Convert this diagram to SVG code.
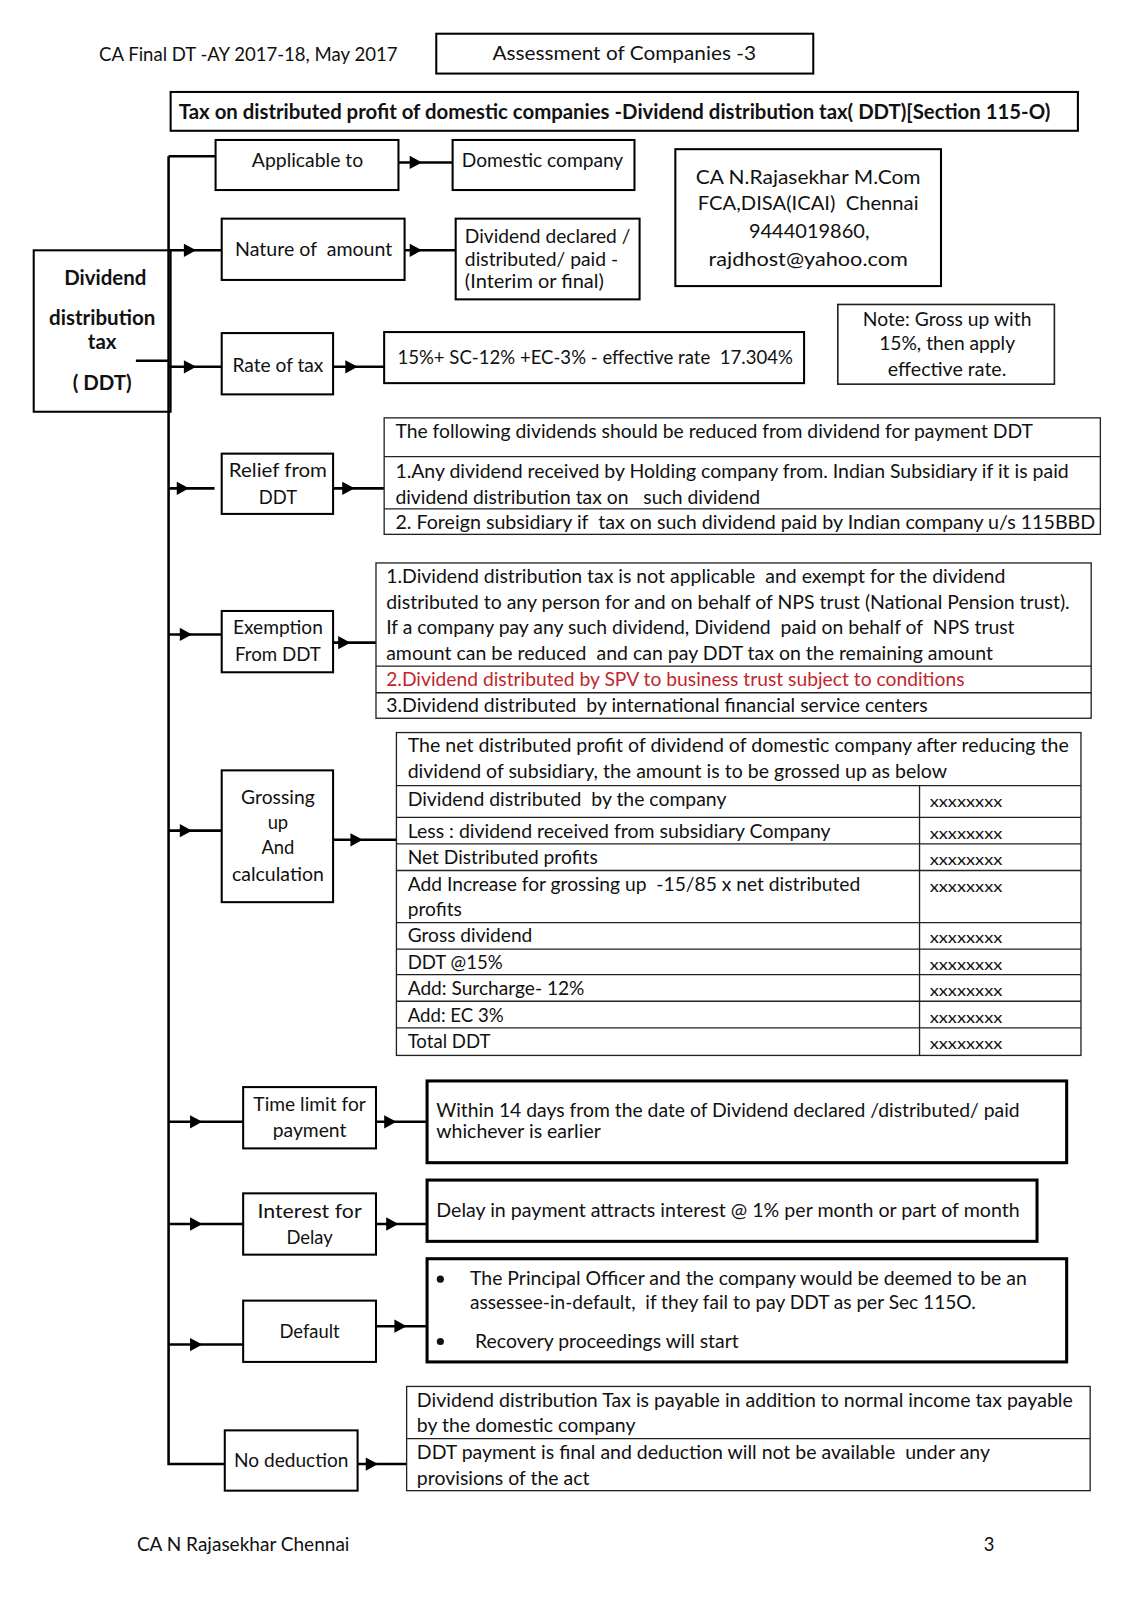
<svg xmlns="http://www.w3.org/2000/svg" xmlns:xlink="http://www.w3.org/1999/xlink" width="1131" height="1600" viewBox="0 0 1131 1600">
<style>
text{font-family:Lato,"Liberation Sans","DejaVu Sans",sans-serif;font-size:18px;fill:#111;white-space:pre}
.b{font-weight:bold}
.c{text-anchor:middle}
.box{fill:#fff;stroke:#000;stroke-width:2}
.thin{fill:#fff;stroke:#222;stroke-width:1.3}
.thk{fill:#fff;stroke:#000;stroke-width:3}
.ln{fill:none;stroke:#222;stroke-width:1.3}
.conn{fill:none;stroke:#000;stroke-width:2.5}
.red{fill:#c0272d}
.xx{font-size:15px}
</style>
<defs>
<path id="ah" d="M0,-6.5 L12,0 L0,6.5 Z" fill="#000"/>
</defs>
<rect width="1131" height="1600" fill="#fff"/>
<g transform="scale(1.0217)" xml:space="preserve">
<g id="header">
<text x="97" y="60" textLength="292" lengthAdjust="spacingAndGlyphs">CA Final DT -AY 2017-18, May 2017</text>
<rect class="box" x="427" y="33" width="369" height="39"/>
<text x="611" y="59" class="c" textLength="258" lengthAdjust="spacingAndGlyphs">Assessment of Companies -3</text>
</g>
<g id="title">
<rect class="box" x="167" y="90" width="888" height="38"/>
<text x="175" y="116" class="b" style="font-size:19.5px" textLength="853" lengthAdjust="spacingAndGlyphs">Tax on distributed profit of domestic companies -Dividend distribution tax( DDT)[Section 115-O)</text>
</g>
<g id="connectors">
<path class="conn" d="M165,153 V1433 H220"/>
<path class="conn" d="M165,153 H211"/>
<path class="conn" d="M390,159 H443"/>
<use xlink:href="#ah" href="#ah" x="401" y="159"/>
<path class="conn" d="M165,245 H217"/>
<use xlink:href="#ah" href="#ah" x="180" y="245"/>
<path class="conn" d="M392,245 H446"/>
<use xlink:href="#ah" href="#ah" x="401" y="245"/>
<path class="conn" d="M133,353 H165"/>
<path class="conn" d="M165,359 H217"/>
<use xlink:href="#ah" href="#ah" x="180" y="359"/>
<path class="conn" d="M326,359 H376"/>
<use xlink:href="#ah" href="#ah" x="338" y="359"/>
<path class="conn" d="M165,478 H210"/>
<use xlink:href="#ah" href="#ah" x="173" y="478"/>
<path class="conn" d="M320,478 H376"/>
<use xlink:href="#ah" href="#ah" x="335" y="478"/>
<path class="conn" d="M165,621 H217"/>
<use xlink:href="#ah" href="#ah" x="176" y="621"/>
<path class="conn" d="M326,629 H368"/>
<use xlink:href="#ah" href="#ah" x="331" y="629"/>
<path class="conn" d="M165,813 H217"/>
<use xlink:href="#ah" href="#ah" x="176" y="813"/>
<path class="conn" d="M326,822 H388"/>
<use xlink:href="#ah" href="#ah" x="343" y="822"/>
<path class="conn" d="M165,1098 H238"/>
<use xlink:href="#ah" href="#ah" x="186" y="1098"/>
<path class="conn" d="M368,1098 H418"/>
<use xlink:href="#ah" href="#ah" x="376" y="1098"/>
<path class="conn" d="M165,1198 H238"/>
<use xlink:href="#ah" href="#ah" x="186" y="1198"/>
<path class="conn" d="M368,1198 H418"/>
<use xlink:href="#ah" href="#ah" x="378" y="1198"/>
<path class="conn" d="M165,1316 H238"/>
<use xlink:href="#ah" href="#ah" x="186" y="1316"/>
<path class="conn" d="M368,1298 H418"/>
<use xlink:href="#ah" href="#ah" x="386" y="1298"/>
<path class="conn" d="M346,1433 H398"/>
<use xlink:href="#ah" href="#ah" x="358" y="1433"/>
</g>
<g id="ddt">
<rect class="box" x="33" y="245" width="134" height="158" style="fill:none"/>
<text x="103" y="279" class="b c" style="font-size:20px">Dividend</text>
<text x="100" y="318" class="b c" style="font-size:20px" textLength="104" lengthAdjust="spacingAndGlyphs">distribution</text>
<text x="100" y="342" class="b c" style="font-size:20px">tax</text>
<text x="100" y="382" class="b c" style="font-size:20px">( DDT)</text>
</g>
<g id="applicable">
<rect class="box" x="211" y="137" width="179" height="49"/>
<text x="301" y="163" class="c" textLength="109" lengthAdjust="spacingAndGlyphs">Applicable to</text>
</g>
<g id="domestic">
<rect class="box" x="443" y="137" width="178" height="49"/>
<text x="452" y="163" textLength="158" lengthAdjust="spacingAndGlyphs">Domestic company</text>
</g>
<g id="contact">
<rect class="box" x="661" y="146" width="260" height="134"/>
<text x="791" y="180" class="c" style="font-size:19.5px" textLength="220" lengthAdjust="spacingAndGlyphs">CA N.Rajasekhar M.Com</text>
<text x="791" y="206" class="c" style="font-size:19.5px" textLength="216" lengthAdjust="spacingAndGlyphs">FCA,DISA(ICAI)  Chennai</text>
<text x="792" y="233" class="c" style="font-size:19.5px" textLength="118" lengthAdjust="spacingAndGlyphs">9444019860,</text>
<text x="791" y="260" class="c" style="font-size:19.5px" textLength="195" lengthAdjust="spacingAndGlyphs">rajdhost@yahoo.com</text>
</g>
<g id="nature">
<rect class="box" x="217" y="214" width="179" height="60"/>
<text x="307" y="251" class="c" textLength="154" lengthAdjust="spacingAndGlyphs">Nature of  amount</text>
</g>
<g id="declared">
<rect class="box" x="446" y="214" width="180" height="79"/>
<text x="455" y="238" textLength="162" lengthAdjust="spacingAndGlyphs">Dividend declared /</text>
<text x="455" y="260" textLength="150" lengthAdjust="spacingAndGlyphs">distributed/ paid -</text>
<text x="455" y="282" textLength="136" lengthAdjust="spacingAndGlyphs">(Interim or final)</text>
</g>
<g id="note">
<rect class="thin" x="820" y="298" width="212" height="78" style="stroke-width:1.6"/>
<text x="927" y="319" class="c" textLength="165" lengthAdjust="spacingAndGlyphs">Note: Gross up with</text>
<text x="927" y="343" class="c" textLength="133" lengthAdjust="spacingAndGlyphs">15%, then apply</text>
<text x="927" y="368" class="c" textLength="116" lengthAdjust="spacingAndGlyphs">effective rate.</text>
</g>
<g id="rate">
<rect class="box" x="217" y="326" width="109" height="60"/>
<text x="272" y="364" class="c" textLength="89" lengthAdjust="spacingAndGlyphs">Rate of tax</text>
</g>
<g id="rate-value">
<rect class="box" x="376" y="325" width="411" height="50"/>
<text x="389" y="356" textLength="387" lengthAdjust="spacingAndGlyphs">15%+ SC-12% +EC-3% - effective rate  17.304%</text>
</g>
<g id="relief">
<rect class="box" x="217" y="444" width="109" height="59"/>
<text x="272" y="467" class="c" textLength="96" lengthAdjust="spacingAndGlyphs">Relief from</text>
<text x="272" y="493" class="c">DDT</text>
</g>
<g id="relief-table">
<rect class="thin" x="376" y="409" width="701" height="114"/>
<path class="ln" d="M376,447 H1077 M376,498 H1077"/>
<text x="387" y="429" textLength="624" lengthAdjust="spacingAndGlyphs">The following dividends should be reduced from dividend for payment DDT</text>
<text x="387" y="468" textLength="659" lengthAdjust="spacingAndGlyphs">1.Any dividend received by Holding company from. Indian Subsidiary if it is paid</text>
<text x="387" y="493" textLength="357" lengthAdjust="spacingAndGlyphs">dividend distribution tax on   such dividend</text>
<text x="387" y="518" textLength="685" lengthAdjust="spacingAndGlyphs">2. Foreign subsidiary if  tax on such dividend paid by Indian company u/s 115BBD</text>
</g>
<g id="exemption">
<rect class="box" x="217" y="598" width="109" height="60"/>
<text x="272" y="621" class="c" textLength="88" lengthAdjust="spacingAndGlyphs">Exemption</text>
<text x="272" y="647" class="c" textLength="84" lengthAdjust="spacingAndGlyphs">From DDT</text>
</g>
<g id="exemption-table">
<rect class="thin" x="368" y="551" width="700" height="152"/>
<path class="ln" d="M368,652 H1068 M368,678 H1068"/>
<text x="378" y="571" textLength="606" lengthAdjust="spacingAndGlyphs">1.Dividend distribution tax is not applicable  and exempt for the dividend</text>
<text x="378" y="596" textLength="669" lengthAdjust="spacingAndGlyphs">distributed to any person for and on behalf of NPS trust (National Pension trust).</text>
<text x="378" y="621" textLength="615" lengthAdjust="spacingAndGlyphs">If a company pay any such dividend, Dividend  paid on behalf of  NPS trust</text>
<text x="378" y="646" textLength="594" lengthAdjust="spacingAndGlyphs">amount can be reduced  and can pay DDT tax on the remaining amount</text>
<text x="378" y="671" class="red" textLength="566" lengthAdjust="spacingAndGlyphs">2.Dividend distributed by SPV to business trust subject to conditions</text>
<text x="378" y="697" textLength="530" lengthAdjust="spacingAndGlyphs">3.Dividend distributed  by international financial service centers</text>
</g>
<g id="grossing">
<rect class="box" x="217" y="754" width="109" height="129"/>
<text x="272" y="787" class="c" textLength="72" lengthAdjust="spacingAndGlyphs">Grossing</text>
<text x="272" y="811" class="c">up</text>
<text x="272" y="836" class="c">And</text>
<text x="272" y="862" class="c" textLength="90" lengthAdjust="spacingAndGlyphs">calculation</text>
</g>
<g id="grossing-table">
<rect class="thin" x="388" y="717" width="670" height="316"/>
<path class="ln" d="M388,769 H1058 M388,800 H1058 M388,826 H1058 M388,852 H1058 M388,903 H1058 M388,929 H1058 M388,954 H1058 M388,980 H1058 M388,1006 H1058 M900,769 V1033"/>
<text x="399" y="736" textLength="647" lengthAdjust="spacingAndGlyphs">The net distributed profit of dividend of domestic company after reducing the</text>
<text x="399" y="761" textLength="528" lengthAdjust="spacingAndGlyphs">dividend of subsidiary, the amount is to be grossed up as below</text>
<text x="399" y="789" textLength="312" lengthAdjust="spacingAndGlyphs">Dividend distributed  by the company</text>
<text x="399" y="820" textLength="414" lengthAdjust="spacingAndGlyphs">Less : dividend received from subsidiary Company</text>
<text x="399" y="846" textLength="186" lengthAdjust="spacingAndGlyphs">Net Distributed profits</text>
<text x="399" y="872" textLength="443" lengthAdjust="spacingAndGlyphs">Add Increase for grossing up  -15/85 x net distributed</text>
<text x="399" y="897" textLength="53" lengthAdjust="spacingAndGlyphs">profits</text>
<text x="399" y="922" textLength="122" lengthAdjust="spacingAndGlyphs">Gross dividend</text>
<text x="399" y="948" textLength="93" lengthAdjust="spacingAndGlyphs">DDT @15%</text>
<text x="399" y="974" textLength="173" lengthAdjust="spacingAndGlyphs">Add: Surcharge- 12%</text>
<text x="399" y="1000" textLength="94" lengthAdjust="spacingAndGlyphs">Add: EC 3%</text>
<text x="399" y="1026" textLength="81" lengthAdjust="spacingAndGlyphs">Total DDT</text>
<text x="910" y="790" class="xx" textLength="71" lengthAdjust="spacingAndGlyphs">xxxxxxxx</text>
<text x="910" y="821" class="xx" textLength="71" lengthAdjust="spacingAndGlyphs">xxxxxxxx</text>
<text x="910" y="847" class="xx" textLength="71" lengthAdjust="spacingAndGlyphs">xxxxxxxx</text>
<text x="910" y="873" class="xx" textLength="71" lengthAdjust="spacingAndGlyphs">xxxxxxxx</text>
<text x="910" y="923" class="xx" textLength="71" lengthAdjust="spacingAndGlyphs">xxxxxxxx</text>
<text x="910" y="949" class="xx" textLength="71" lengthAdjust="spacingAndGlyphs">xxxxxxxx</text>
<text x="910" y="975" class="xx" textLength="71" lengthAdjust="spacingAndGlyphs">xxxxxxxx</text>
<text x="910" y="1001" class="xx" textLength="71" lengthAdjust="spacingAndGlyphs">xxxxxxxx</text>
<text x="910" y="1027" class="xx" textLength="71" lengthAdjust="spacingAndGlyphs">xxxxxxxx</text>
</g>
<g id="time-limit">
<rect class="box" x="238" y="1064" width="130" height="60"/>
<text x="303" y="1087" class="c" textLength="110" lengthAdjust="spacingAndGlyphs">Time limit for</text>
<text x="303" y="1113" class="c" textLength="72" lengthAdjust="spacingAndGlyphs">payment</text>
</g>
<g id="time-limit-value">
<rect class="thk" x="418" y="1058" width="626" height="80"/>
<text x="427" y="1093" textLength="571" lengthAdjust="spacingAndGlyphs">Within 14 days from the date of Dividend declared /distributed/ paid</text>
<text x="427" y="1114" textLength="161" lengthAdjust="spacingAndGlyphs">whichever is earlier</text>
</g>
<g id="interest">
<rect class="box" x="238" y="1168" width="130" height="60"/>
<text x="303" y="1192" class="c" textLength="102" lengthAdjust="spacingAndGlyphs">Interest for</text>
<text x="303" y="1218" class="c">Delay</text>
</g>
<g id="interest-value">
<rect class="thk" x="418" y="1155" width="597" height="60"/>
<text x="427" y="1191" textLength="571" lengthAdjust="spacingAndGlyphs">Delay in payment attracts interest @ 1% per month or part of month</text>
</g>
<g id="default">
<rect class="box" x="238" y="1273" width="130" height="60"/>
<text x="303" y="1310" class="c">Default</text>
</g>
<g id="default-value">
<rect class="thk" x="418" y="1232" width="626" height="101"/>
<circle cx="431" cy="1252" r="3.5" fill="#111"/>
<circle cx="431" cy="1313" r="3.5" fill="#111"/>
<text x="460" y="1258" textLength="545" lengthAdjust="spacingAndGlyphs">The Principal Officer and the company would be deemed to be an</text>
<text x="460" y="1281" textLength="495" lengthAdjust="spacingAndGlyphs">assessee-in-default,  if they fail to pay DDT as per Sec 115O.</text>
<text x="465" y="1319" textLength="258" lengthAdjust="spacingAndGlyphs">Recovery proceedings will start</text>
</g>
<g id="no-deduction">
<rect class="box" x="220" y="1400" width="130" height="59"/>
<text x="285" y="1436" class="c" textLength="112" lengthAdjust="spacingAndGlyphs">No deduction</text>
</g>
<g id="no-deduction-table">
<rect class="thin" x="398" y="1357" width="669" height="102"/>
<path class="ln" d="M398,1408 H1067"/>
<text x="408" y="1377" textLength="642" lengthAdjust="spacingAndGlyphs">Dividend distribution Tax is payable in addition to normal income tax payable</text>
<text x="408" y="1402" textLength="214" lengthAdjust="spacingAndGlyphs">by the domestic company</text>
<text x="408" y="1428" textLength="561" lengthAdjust="spacingAndGlyphs">DDT payment is final and deduction will not be available  under any</text>
<text x="408" y="1453" textLength="169" lengthAdjust="spacingAndGlyphs">provisions of the act</text>
</g>
<g id="footer">
<text x="134" y="1518" textLength="208" lengthAdjust="spacingAndGlyphs">CA N Rajasekhar Chennai</text>
<text x="968" y="1518" class="c">3</text>
</g>
</g>
</svg>
